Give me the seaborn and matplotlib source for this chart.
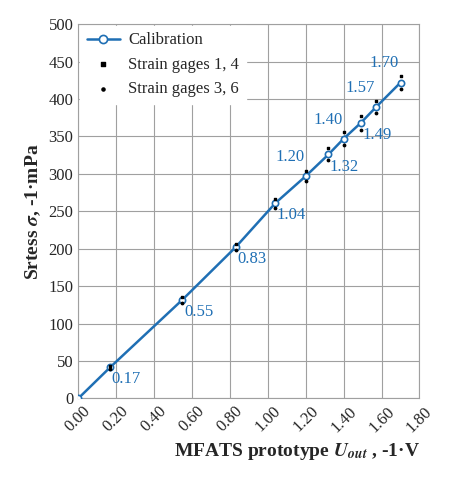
import numpy as np
import matplotlib
matplotlib.use('Agg')
import matplotlib.pyplot as plt
import seaborn as sns

# Calibration data
u_out = [0.0, 0.17, 0.55, 0.83, 1.04, 1.20, 1.32, 1.40, 1.49, 1.57, 1.70]
stress = [0, 42, 132, 202, 261, 297, 326, 347, 368, 389, 422]
# Strain gage readings
gage14 = [None, 44, 136, 206, 266, 304, 334, 356, 377, 398, 431]
gage36 = [None, 39, 128, 198, 254, 291, 318, 339, 359, 381, 413]
labels = ['', '0.17', '0.55', '0.83', '1.04', '1.20', '1.32', '1.40', '1.49', '1.57', '1.70']
label_above = [False, False, False, False, False, True, False, True, False, True, True]

sns.set_style('white')
plt.rcParams['font.family'] = ['Liberation Serif', 'DejaVu Serif']
plt.rcParams['mathtext.fontset'] = 'stix'

fig, ax = plt.subplots(figsize=(4.74, 4.83), dpi=100)
blue = '#1f6fb4'
ax.grid(True, color='#a0a0a0', lw=0.8)
ax.set_axisbelow(True)
sns.lineplot(x=u_out, y=stress, ax=ax, color=blue, lw=1.8, marker='o', markersize=4.5,
             markerfacecolor='white', markeredgecolor=blue, markeredgewidth=1.2,
             label='Calibration', zorder=3)
ax.scatter(u_out[1:], gage14[1:], s=3, marker='s', color='black', label='Strain gages 1, 4', zorder=4)
ax.scatter(u_out[1:], gage36[1:], s=3, marker='o', color='black', label='Strain gages 3, 6', zorder=4)

for x, y, t, up in zip(u_out, stress, labels, label_above):
    if not t:
        continue
    if up:
        ax.annotate(t, (x, y), xytext=(-1, 8), textcoords='offset points',
                    ha='right', va='bottom', color=blue, fontsize=12)
    else:
        ax.annotate(t, (x, y), xytext=(1, -3), textcoords='offset points',
                    ha='left', va='top', color=blue, fontsize=12)

ax.set_xlim(0, 1.8)
ax.set_ylim(0, 500)
ax.set_xticks(np.arange(0, 1.81, 0.2))
ax.set_xticklabels([f'{v:.2f}' for v in np.arange(0, 1.81, 0.2)], rotation=45, fontsize=12)
ax.set_yticks(range(0, 501, 50))
ax.tick_params(axis='y', labelsize=12)
ax.tick_params(length=0)
for s in ax.spines.values():
    s.set_color('#a0a0a0')
ax.set_xlabel(r'MFATS prototype $\mathbfit{U}_{\mathbfit{out}}$ , -1·V', fontsize=14,
              fontweight='bold', loc='right')
ax.set_ylabel(r'Srtess $\mathbfit{\sigma}$, -1·mPa', fontsize=14, fontweight='bold')
leg = ax.legend(loc='upper left', fontsize=12, frameon=True, framealpha=1,
                edgecolor='white', fancybox=False, borderaxespad=0.1, handletextpad=0.5,
                markerscale=1.3)
leg.set_zorder(5)
fig.subplots_adjust(left=0.165, right=0.885, top=0.95, bottom=0.175)
fig.savefig('out.png', dpi=100)
